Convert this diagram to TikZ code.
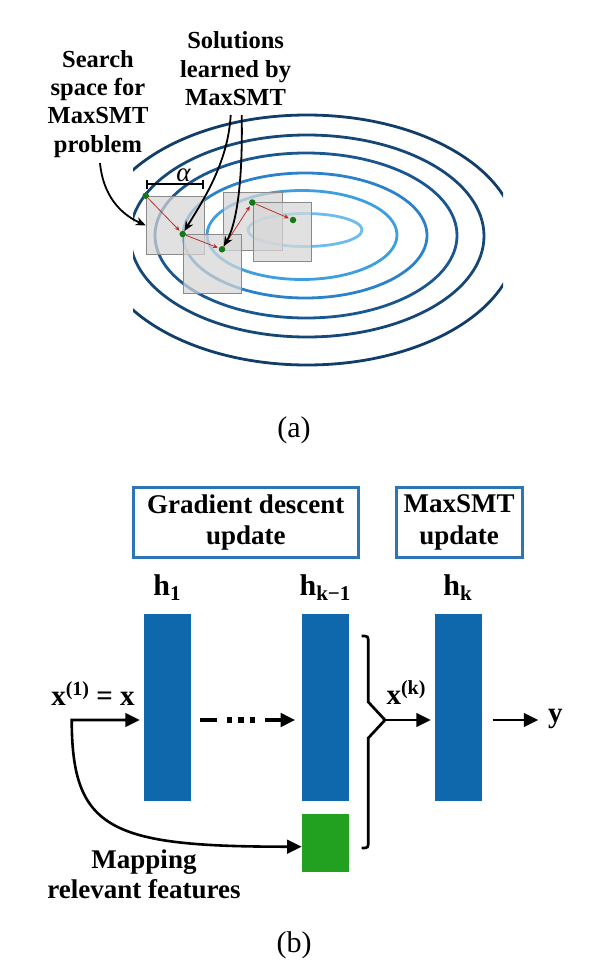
\documentclass[tikz,border=0pt]{standalone}
\usepackage{fontspec}
\setmainfont{Liberation Serif}[BoldFont={Liberation Serif Bold},ItalicFont={Liberation Serif Italic}]
\usetikzlibrary{arrows.meta}
\newcommand\myfs[2]{\fontsize{#1pt}{#2pt}\selectfont}
\newcommand\hsub[1]{\raisebox{-5pt}{\myfs{21}{21}#1}}
\newcommand\xsup[1]{\raisebox{10pt}{\myfs{20}{20}#1}}
\definecolor{eA}{HTML}{6DBDEC}
\definecolor{eB}{HTML}{3D9EE0}
\definecolor{eC}{HTML}{2B82CB}
\definecolor{eD}{HTML}{1A5790}
\definecolor{eE}{HTML}{154877}
\definecolor{eF}{HTML}{113D6A}
\definecolor{sqfill}{HTML}{D6D6D6}
\definecolor{sqline}{HTML}{8A8A8A}
\definecolor{dotgreen}{HTML}{137A13}
\definecolor{arrred}{HTML}{B8302A}
\definecolor{barblue}{HTML}{1068AC}
\definecolor{boxblue}{HTML}{2E75B6}
\definecolor{grn}{HTML}{21A11F}
\begin{document}
\begin{tikzpicture}[x=1pt,y=-1pt,
  toplbl/.style={font=\bfseries\myfs{24.5}{28.3}, align=center, inner sep=0, anchor=north},
  botlbl/.style={font=\bfseries\myfs{27}{29.6}, align=center, inner sep=0, anchor=north},
  ell/.style={line width=2.8pt},
  sqbox/.style={draw=sqline, fill=sqfill, fill opacity=0.72, line width=0.7pt, minimum size=58.5pt, inner sep=0, anchor=north west},
  gdot/.style={circle, fill=dotgreen, inner sep=0, minimum size=6.5pt},
  redarr/.style={draw=arrred, line width=0.8pt, -{Stealth[length=5pt,width=4.5pt]}, shorten >=1pt},
  topArr/.style={line width=1.8pt, -{Stealth[length=10pt,width=8.5pt]}},
  bigArr/.style={line width=2.6pt, -{Triangle[length=14.5pt,width=13.5pt]}},
  updbox/.style={draw=boxblue, line width=3pt, fill=white, font=\bfseries\myfs{27}{31.7}, align=center, inner sep=0, minimum height=70.6pt},
  bar/.style={fill=barblue, inner sep=0, minimum width=46.7pt},
  hlab/.style={font=\bfseries\myfs{30}{30}, inner sep=0, anchor=base},
  caption/.style={font=\myfs{30}{30}, inner sep=0}
]
\useasboundingbox (0,0) rectangle (599,961);

% ---------- (a) ----------
\begin{scope}
\clip (133,100) rectangle (503,395);
\draw[ell, eF] (307,240) ellipse [x radius=210, y radius=125];
\draw[ell, eE] (307,236) ellipse [x radius=177, y radius=101];
\draw[ell, eD] (306,235.5) ellipse [x radius=151, y radius=82.5];
\draw[ell, eC] (305,235.5) ellipse [x radius=122, y radius=62.5];
\draw[ell, eB] (302,235) ellipse [x radius=95, y radius=44.5];
\draw[ell, eA] (305,230) ellipse [x radius=57, y radius=16.5];
\end{scope}

\node[sqbox] (s1) at (145.7,195.7) {};
\node[sqbox] (s3) at (223.3,191.7) {};
\node[sqbox] (s4) at (252.7,202.3) {};
\node[sqbox] (s2) at (182.7,234) {};

\node[gdot] (d1) at (145.7,195.7) {};
\node[gdot] (d2) at (182.7,234) {};
\node[gdot] (d3) at (222,249.3) {};
\node[gdot] (d4) at (252.3,202.5) {};
\node[gdot] (d5) at (293,220) {};
\draw[redarr] (d1) -- (d2);
\draw[redarr] (d2) -- (d3);
\draw[redarr] (d3) -- (d4);
\draw[redarr] (d4) -- (d5);

\coordinate (al) at (145.7,184);
\coordinate (ar) at (204,184);
\draw[line width=2pt, {Bar[width=9pt]}-{Bar[width=9pt]}] (al) -- (ar);
\node[font=\itshape\myfs{27}{27}, inner sep=0, anchor=base] (alpha) at (183.5,181) {α};

\node[toplbl] (search) at (98,50) {Search\\space for\\MaxSMT\\problem};
\node[toplbl] (sol) at (235.6,31.6) {Solutions\\learned by\\MaxSMT};

\coordinate (sa) at (100,163);
\coordinate (sb) at (230.7,115);
\coordinate (sc) at (241.7,115);
\draw[topArr] (sa) .. controls (103,195) and (120,214) .. (s1.west);
\draw[topArr] (sb) .. controls (228,165) and (200,205) .. (d2);
\draw[topArr] (sc) .. controls (243,185) and (236,225) .. (d3);

\node[caption] (capa) at (294,430) {(a)};

% ---------- (b) ----------
\node[updbox, minimum width=225.3pt] (gd) at (245.85,522.5) {Gradient descent\\update};
\node[updbox, minimum width=126.2pt] (ms) at (459.1,522.5) {MaxSMT\\update};

\node[hlab] (l1) at (167,595) {h\hsub{1}};
\node[hlab] (lkm) at (325,595) {h\hsub{k−1}};
\node[hlab] (lk) at (457.5,595) {h\hsub{k}};

\node[bar, minimum height=186.7pt] (h1) at (167.35,707.35) {};
\node[bar, minimum height=186.7pt] (hkm) at (325.65,707.35) {};
\node[bar, minimum height=186.7pt] (hk) at (458.35,707.35) {};
\node[fill=grn, inner sep=0, minimum width=46.7pt, minimum height=57.7pt] (gr) at (325.65,842.85) {};

\node[font=\bfseries\myfs{29}{29}, inner sep=0, anchor=base] (xin) at (93,705) {x\xsup{(1)} = x};
\coordinate (in) at (71.7,720);
\coordinate (gin) at (301.7,846.7);
\draw[line width=2.6pt, {Triangle[length=14.5pt,width=13.5pt]}-{Triangle[length=14.5pt,width=13.5pt]}, shorten <=4pt]
  (h1.west |- in) -- (in) .. controls (72,830) and (110,846.7) .. (gin);

\draw[line width=3.2pt, dash pattern=on 17.4pt off 48pt on 100pt, -{Triangle[length=14.5pt,width=13.5pt]}]
  ([xshift=8.6pt]h1.east |- in) -- ([xshift=-7pt]hkm.west |- in);
\fill (226.8,717.3) rectangle (232.2,722.7);
\fill (238.2,717.3) rectangle (243.6,722.7);
\fill (249.6,717.3) rectangle (255,722.7);

\coordinate (bt) at (385,720);
\draw[line width=2.7pt, line join=miter]
  (361.7,636) .. controls (368.3,636) .. (368.3,644) -- (368.3,702) -- (bt)
  -- (368.3,738) -- (368.3,840) .. controls (368.3,848) .. (361.7,848);
\draw[bigArr, shorten >=4pt] (bt) -- (hk.west |- bt);
\node[font=\bfseries\myfs{29}{29}, inner sep=0, anchor=base] (xk) at (406,704) {x\xsup{(k)}};

\node[font=\bfseries\myfs{29}{29}, inner sep=0, anchor=west] (yout) at (548,719) {y};
\draw[bigArr, shorten <=10.6pt, shorten >=9.7pt] (hk.east |- bt) -- (yout.west |- bt);

\node[botlbl] (map) at (144,849.7) {Mapping\\relevant features};

\node[caption] (capb) at (294,945) {(b)};
\end{tikzpicture}
\end{document}
